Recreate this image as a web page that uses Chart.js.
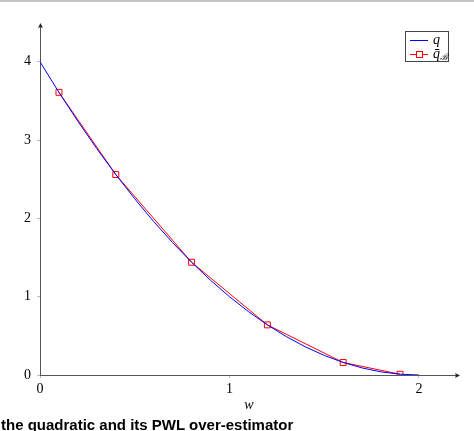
<!DOCTYPE html>
<html>
<head>
<meta charset="utf-8">
<script src="https://cdn.jsdelivr.net/npm/chart.js@4/dist/chart.umd.min.js"></script>
<style>
  html, body { margin:0; padding:0; background:#fff; overflow:hidden; }
  #wrap { position:relative; width:474px; height:431px; }
  #topbar { position:absolute; left:0; top:0; width:474px; height:2px; background:#c4c4c4; }
  canvas { position:absolute; left:0; top:0; }
  #caption { position:absolute; left:1px; top:417px; font-family:"Liberation Sans", Arial, sans-serif; font-weight:bold; font-size:15px; line-height:15px; color:#000; white-space:nowrap; }
</style>
</head>
<body>
<div id="wrap">
  <canvas id="c" width="474" height="431"></canvas>
  <div id="topbar"></div>
  <div id="caption">the quadratic and its PWL over-estimator</div>
</div>
<script>
// ---- data ----
const qW = [0, 0.1, 0.2, 0.3, 0.4, 0.5, 0.6, 0.7, 0.8, 0.9, 1.0, 1.1, 1.2, 1.3, 1.4, 1.5, 1.6, 1.7, 1.8, 1.9, 2.0];
const qVals = [4, 3.61, 3.24, 2.89, 2.56, 2.25, 1.96, 1.69, 1.44, 1.21, 1.0, 0.81, 0.64, 0.49, 0.36, 0.25, 0.16, 0.09, 0.04, 0.01, 0];
const pwlW = [0.1, 0.4, 0.8, 1.2, 1.6, 1.9];
const pwlVals = [3.61, 2.56, 1.44, 0.64, 0.16, 0.01];
const xTicks = [0, 1, 2];
const yTicks = [0, 1, 2, 3, 4];
const seriesLabels = ['q', 'q\u0304'];
const xTitle = 'w';

const serif = '"Liberation Serif", "DejaVu Serif", serif';

const axisArrows = {
  id: 'axisArrows',
  afterDraw(chart) {
    const ctx = chart.ctx, a = chart.chartArea;
    ctx.save();
    ctx.fillStyle = '#222';
    // x arrow
    const y0 = Math.round(a.bottom) + 0.5;
    ctx.beginPath();
    ctx.moveTo(a.right + 2, y0);
    ctx.lineTo(a.right - 3, y0 - 2.5);
    ctx.lineTo(a.right - 2, y0);
    ctx.lineTo(a.right - 3, y0 + 2.5);
    ctx.closePath(); ctx.fill();
    // y arrow
    const x0 = Math.round(a.left) + 0.5;
    ctx.beginPath();
    ctx.moveTo(x0, a.top - 2);
    ctx.lineTo(x0 - 2.5, a.top + 3);
    ctx.lineTo(x0, a.top + 2);
    ctx.lineTo(x0 + 2.5, a.top + 3);
    ctx.closePath(); ctx.fill();
    ctx.restore();
  }
};

const customLegend = {
  id: 'customLegend',
  afterDraw(chart) {
    const ctx = chart.ctx;
    const bx = 405.5, by = 31.5, bw = 43, bh = 30;
    ctx.save();
    ctx.fillStyle = '#fff';
    ctx.fillRect(bx, by, bw, bh);
    ctx.strokeStyle = '#444';
    ctx.lineWidth = 1;
    ctx.strokeRect(bx, by, bw, bh);
    const rows = [40, 54];
    chart.data.datasets.forEach((ds, i) => {
      const ry = rows[i] + 0.5;
      ctx.strokeStyle = ds.borderColor;
      ctx.lineWidth = 1;
      ctx.beginPath();
      ctx.moveTo(410, ry); ctx.lineTo(428, ry);
      ctx.stroke();
      if (ds.pointRadius > 0) {
        ctx.fillStyle = '#fff';
        ctx.fillRect(416.5, ry - 3, 6, 6);
        ctx.strokeRect(416.5, ry - 3, 6, 6);
      }
      ctx.fillStyle = '#000';
      ctx.font = 'italic 14px ' + serif;
      ctx.textBaseline = 'alphabetic';
      ctx.textAlign = 'left';
      ctx.fillText(seriesLabels[i], 433, ry + 3);
      if (i === 1) {
        ctx.font = 'italic 9px ' + serif;
        ctx.fillText('\u212C', 440, ry + 5);
      }
    });
    ctx.restore();
  }
};

new Chart(document.getElementById('c'), {
  type: 'scatter',
  data: {
    datasets: [
      {
        label: 'q',
        data: qW.map((w, i) => ({ x: w, y: qVals[i] })),
        showLine: true,
        borderColor: '#0000ff',
        borderWidth: 1,
        pointRadius: 0,
        tension: 0,
        fill: false
      },
      {
        label: 'qB',
        data: pwlW.map((w, i) => ({ x: w, y: pwlVals[i] })),
        showLine: true,
        borderColor: '#ff0000',
        borderWidth: 1,
        pointStyle: 'rect',
        pointRadius: 4.2,
        pointBorderWidth: 1,
        pointBorderColor: '#ff0000',
        pointBackgroundColor: 'rgba(255,255,255,0)',
        tension: 0,
        fill: false
      }
    ]
  },
  options: {
    responsive: false,
    animation: false,
    devicePixelRatio: 1,
    layout: { padding: { top: 25, right: 16, left: 0, bottom: 0 } },
    plugins: { legend: { display: false }, tooltip: { enabled: false } },
    scales: {
      x: {
        type: 'linear',
        min: 0,
        max: 2.206,
        afterBuildTicks: s => { s.ticks = xTicks.map(v => ({ value: v })); },
        afterFit: s => { s.height = 56; },
        grid: { drawOnChartArea: false, drawTicks: true, tickLength: 3, color: '#bbb' },
        border: { display: true, color: '#555', width: 1 },
        ticks: { padding: 3, color: '#000', font: { family: serif, size: 14 }, maxRotation: 0 },
        title: { display: true, text: xTitle, color: '#000', font: { family: serif, size: 14, style: 'italic' }, padding: { top: 0, bottom: 17 } }
      },
      y: {
        type: 'linear',
        min: 0,
        max: 4.47,
        afterBuildTicks: s => { s.ticks = yTicks.map(v => ({ value: v })); },
        afterFit: s => { s.width = 40; },
        grid: { drawOnChartArea: false, drawTicks: true, tickLength: 3, color: '#bbb' },
        border: { display: true, color: '#555', width: 1 },
        ticks: { padding: 6, color: '#000', font: { family: serif, size: 14 } }
      }
    }
  },
  plugins: [axisArrows, customLegend]
});
</script>
</body>
</html>
